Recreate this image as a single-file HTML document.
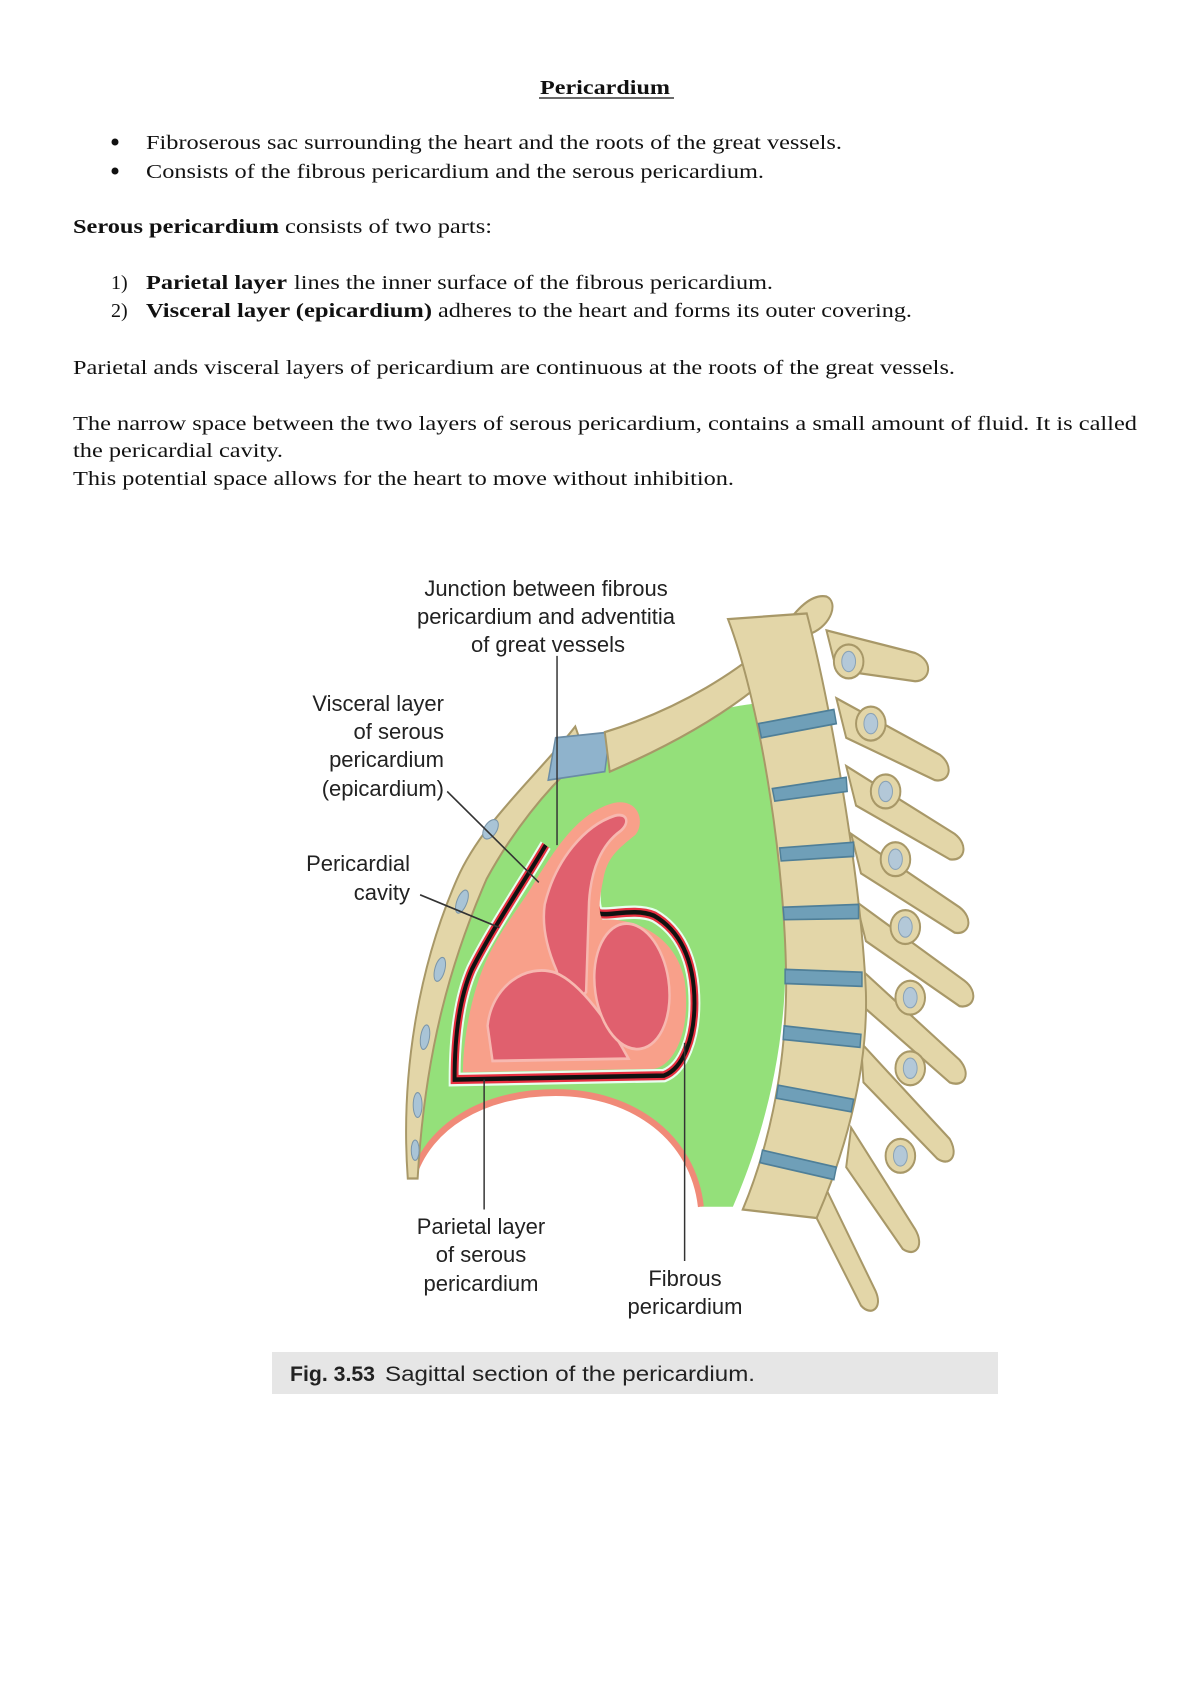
<!DOCTYPE html>
<html><head><meta charset="utf-8"><style>
html,body{margin:0;padding:0;background:#fff}
svg{display:block}
.s{font-family:"Liberation Serif",serif;font-size:20px;fill:#111}
.b{font-weight:bold}
.l{font-family:"Liberation Sans",sans-serif;font-size:22px;fill:#222}
</style></head><body>
<svg width="1200" height="1698" viewBox="0 0 1200 1698" xmlns="http://www.w3.org/2000/svg">
<text class="s b" x="540" y="94" textLength="130" lengthAdjust="spacingAndGlyphs">Pericardium</text>
<line x1="539" y1="98" x2="674" y2="98" stroke="#111" stroke-width="1.3"/>
<circle cx="115" cy="142" r="3.5" fill="#111"/>
<text class="s" x="146" y="149" textLength="696" lengthAdjust="spacingAndGlyphs">Fibroserous sac surrounding the heart and the roots of the great vessels.</text>
<circle cx="115" cy="171" r="3.5" fill="#111"/>
<text class="s" x="146" y="178" textLength="618" lengthAdjust="spacingAndGlyphs">Consists of the fibrous pericardium and the serous pericardium.</text>
<text class="s b" x="73" y="233" textLength="206" lengthAdjust="spacingAndGlyphs">Serous pericardium</text>
<text class="s" x="285" y="233" textLength="207" lengthAdjust="spacingAndGlyphs">consists of two parts:</text>
<text class="s" x="111" y="289">1)</text>
<text class="s b" x="146" y="289" textLength="141" lengthAdjust="spacingAndGlyphs">Parietal layer</text>
<text class="s" x="294" y="289" textLength="479" lengthAdjust="spacingAndGlyphs">lines the inner surface of the fibrous pericardium.</text>
<text class="s" x="111" y="317">2)</text>
<text class="s b" x="146" y="317" textLength="286" lengthAdjust="spacingAndGlyphs">Visceral layer (epicardium)</text>
<text class="s" x="438" y="317" textLength="474" lengthAdjust="spacingAndGlyphs">adheres to the heart and forms its outer covering.</text>
<text class="s" x="73" y="374" textLength="882" lengthAdjust="spacingAndGlyphs">Parietal ands visceral layers of pericardium are continuous at the roots of the great vessels.</text>
<text class="s" x="73" y="430" textLength="1064" lengthAdjust="spacingAndGlyphs">The narrow space between the two layers of serous pericardium, contains a small amount of fluid. It is called</text>
<text class="s" x="73" y="457" textLength="210" lengthAdjust="spacingAndGlyphs">the pericardial cavity.</text>
<text class="s" x="73" y="485" textLength="661" lengthAdjust="spacingAndGlyphs">This potential space allows for the heart to move without inhibition.</text>

<g transform="translate(260,540) scale(0.4926,0.565)">
 <path d="M310,1130 C300,950 340,780 420,620 C480,520 560,450 640,400 C780,340 900,300 1000,290 C1040,420 1075,600 1065,800 C1055,950 1010,1080 960,1180 L895,1180 C880,1060 760,975 600,975 C450,975 340,1040 310,1130 Z" fill="#94e07a"/>
 <path d="M310,1130 C340,1040 450,978 600,978 C760,978 880,1060 895,1180" fill="#fff" stroke="#f08a78" stroke-width="12"/>
 <path d="M300,1130 C285,950 320,760 400,600 C450,500 560,420 640,330 L660,380 C580,440 510,520 460,600 C390,740 335,900 320,1130 Z" fill="#e3d6a8" stroke="#a89868" stroke-width="4"/>
 <g fill="#a9c4d6" stroke="#7a95a8" stroke-width="2">
  <ellipse cx="468" cy="512" rx="12" ry="20" transform="rotate(40 468 512)"/>
  <ellipse cx="410" cy="640" rx="10" ry="22" transform="rotate(25 410 640)"/>
  <ellipse cx="365" cy="760" rx="10" ry="22" transform="rotate(18 365 760)"/>
  <ellipse cx="335" cy="880" rx="9" ry="22" transform="rotate(10 335 880)"/>
  <ellipse cx="320" cy="1000" rx="9" ry="22"/>
  <ellipse cx="315" cy="1080" rx="8" ry="18"/>
 </g>
 <path d="M600,350 L710,340 L700,410 L585,425 Z" fill="#8fb3cc" stroke="#6a8ca5" stroke-width="3"/>
 <path d="M700,340 C850,300 980,230 1060,160 C1090,120 1120,95 1150,100 C1175,110 1160,150 1120,165 C1060,230 950,320 710,410 Z" fill="#e3d6a8" stroke="#a89868" stroke-width="4"/>
 <g fill="#e3d6a8" stroke="#a89868" stroke-width="4">
  <path d="M1150,160 L1330,200 C1370,215 1360,250 1330,250 L1170,230 Z"/>
  <path d="M1170,280 L1380,380 C1410,400 1400,430 1370,425 L1190,350 Z"/>
  <path d="M1190,400 L1410,520 C1440,540 1430,570 1400,565 L1210,470 Z"/>
  <path d="M1200,520 L1420,650 C1450,670 1440,700 1410,695 L1220,590 Z"/>
  <path d="M1210,640 L1430,780 C1460,800 1450,830 1420,825 L1230,710 Z"/>
  <path d="M1220,760 L1420,920 C1445,945 1430,970 1400,960 L1230,830 Z"/>
  <path d="M1220,890 L1400,1060 C1420,1090 1400,1110 1375,1095 L1225,960 Z"/>
  <path d="M1200,1040 L1330,1220 C1350,1250 1330,1270 1305,1255 L1190,1110 Z"/>
  <path d="M1150,1150 L1250,1330 C1265,1360 1240,1375 1220,1355 L1130,1200 Z"/>
 </g>
 <path d="M950,140 L1110,130 C1160,300 1220,600 1230,800 C1235,950 1180,1100 1130,1200 L980,1185 C1030,1080 1065,950 1068,800 C1070,600 1020,300 950,140 Z" fill="#e3d6a8" stroke="#a89868" stroke-width="4"/>
 <g fill="#6f9fb8" stroke="#4f7f98" stroke-width="3">
  <path d="M1012,325 L1165,300 L1170,325 L1018,350 Z"/>
  <path d="M1040,440 L1190,420 L1192,445 L1045,462 Z"/>
  <path d="M1055,545 L1205,535 L1205,560 L1058,568 Z"/>
  <path d="M1062,650 L1215,645 L1215,670 L1064,672 Z"/>
  <path d="M1066,760 L1222,765 L1222,790 L1066,785 Z"/>
  <path d="M1064,860 L1220,875 L1218,898 L1062,884 Z"/>
  <path d="M1052,965 L1205,990 L1200,1012 L1048,988 Z"/>
  <path d="M1020,1080 L1170,1110 L1165,1132 L1015,1102 Z"/>
 </g>
 <g fill="#e3d6a8" stroke="#a89868" stroke-width="4">
  <circle cx="1195" cy="215" r="30"/><circle cx="1240" cy="325" r="30"/><circle cx="1270" cy="445" r="30"/>
  <circle cx="1290" cy="565" r="30"/><circle cx="1310" cy="685" r="30"/><circle cx="1320" cy="810" r="30"/>
  <circle cx="1320" cy="935" r="30"/><circle cx="1300" cy="1090" r="30"/>
 </g>
 <g fill="#b3c8d8" stroke="#8aa2b5" stroke-width="2">
  <ellipse cx="1195" cy="215" rx="14" ry="18"/><ellipse cx="1240" cy="325" rx="14" ry="18"/><ellipse cx="1270" cy="445" rx="14" ry="18"/>
  <ellipse cx="1290" cy="565" rx="14" ry="18"/><ellipse cx="1310" cy="685" rx="14" ry="18"/><ellipse cx="1320" cy="810" rx="14" ry="18"/>
  <ellipse cx="1320" cy="935" rx="14" ry="18"/><ellipse cx="1300" cy="1090" rx="14" ry="18"/>
 </g>
 <path d="M580,540 C540,600 470,690 430,760 C400,820 395,900 395,955 L820,948 C860,935 882,880 882,820 C882,740 850,690 800,665 C760,650 700,668 685,660 C675,640 680,590 695,560" fill="none" stroke="#e8fff0" stroke-width="24"/>
 <path d="M580,540 C540,600 470,690 430,760 C400,820 395,900 395,955 L820,948 C860,935 882,880 882,820 C882,740 850,690 800,665 C760,650 700,668 685,660 C675,640 680,590 695,560" fill="none" stroke="#e83040" stroke-width="16"/>
 <path d="M580,540 C540,600 470,690 430,760 C400,820 395,900 395,955 L820,948 C860,935 882,880 882,820 C882,740 850,690 800,665 C760,650 700,668 685,660 C675,640 680,590 695,560" fill="none" stroke="#111" stroke-width="8"/>
 <path d="M565,595 C605,540 650,480 720,465 C770,458 782,500 762,522 C725,548 705,562 697,600 C690,630 685,655 695,672 C760,668 845,700 862,780 C876,870 840,930 800,936 L412,942 C412,880 432,785 472,722 C500,676 535,640 565,595 Z" fill="#f8a08a"/>
 <g fill="#e0606e" stroke="#f7b8b0" stroke-width="5">
  <path d="M578,645 C600,565 660,505 720,488 C745,482 752,500 732,515 C692,540 672,585 668,640 L662,800 C642,822 612,800 602,762 C582,722 572,682 578,645 Z"/>
  <path d="M462,860 C470,790 540,748 600,766 C652,784 712,860 748,918 L472,922 Z"/>
  <ellipse cx="755" cy="790" rx="75" ry="112" transform="rotate(-10 755 790)"/>
 </g>
 <g stroke="#333" stroke-width="3" fill="none">
  <line x1="603" y1="205" x2="603" y2="540"/>
  <line x1="380" y1="445" x2="566" y2="606"/>
  <line x1="325" y1="628" x2="486" y2="686"/>
  <line x1="455" y1="955" x2="455" y2="1185"/>
  <line x1="862" y1="890" x2="862" y2="1276"/>
 </g>
</g>
<g class="l">
 <text x="546" y="596" text-anchor="middle">Junction between fibrous</text>
 <text x="546" y="624" text-anchor="middle">pericardium and adventitia</text>
 <text x="548" y="652" text-anchor="middle">of great vessels</text>
 <text x="444" y="711" text-anchor="end">Visceral layer</text>
 <text x="444" y="739" text-anchor="end">of serous</text>
 <text x="444" y="767" text-anchor="end">pericardium</text>
 <text x="444" y="796" text-anchor="end">(epicardium)</text>
 <text x="410" y="871" text-anchor="end">Pericardial</text>
 <text x="410" y="900" text-anchor="end">cavity</text>
 <text x="481" y="1234" text-anchor="middle">Parietal layer</text>
 <text x="481" y="1262" text-anchor="middle">of serous</text>
 <text x="481" y="1291" text-anchor="middle">pericardium</text>
 <text x="685" y="1286" text-anchor="middle">Fibrous</text>
 <text x="685" y="1314" text-anchor="middle">pericardium</text>
</g>
<rect x="272" y="1352" width="726" height="42" fill="#e6e6e6"/>
<text x="290" y="1381" font-family="Liberation Sans, sans-serif" font-size="21" font-weight="bold" fill="#222" textLength="85" lengthAdjust="spacingAndGlyphs">Fig. 3.53</text>
<text x="385" y="1381" font-family="Liberation Sans, sans-serif" font-size="21" fill="#222" textLength="370" lengthAdjust="spacingAndGlyphs">Sagittal section of the pericardium.</text>
</svg>
</body></html>
